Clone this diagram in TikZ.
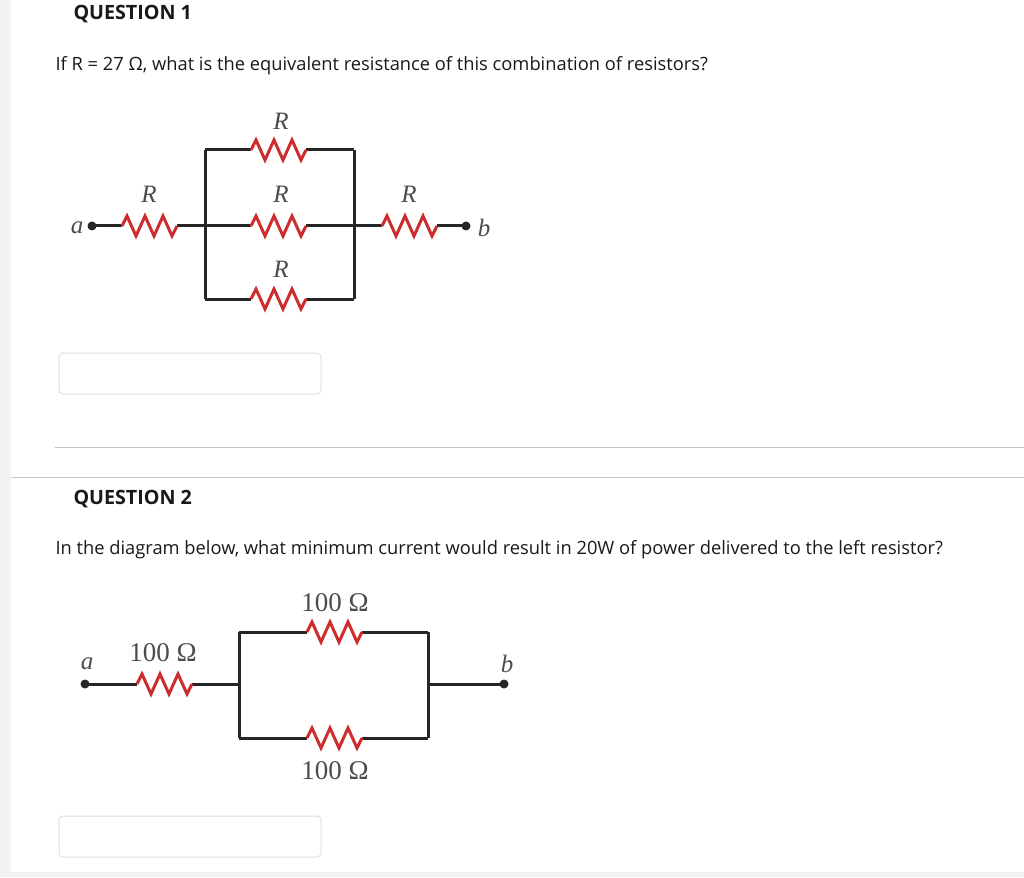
\documentclass[tikz,border=0pt]{standalone}
\usepackage{fontspec}
\setmainfont{Open Sans}
\newfontfamily\cserif{Liberation Serif}
\begin{document}
\begin{tikzpicture}[x=1pt,y=-1pt,
  wire/.style={line width=3pt,black!85},
  rz/.style={line width=3pt,draw={rgb,255:red,205;green,45;blue,45},line join=miter},
  dotn/.style={circle,fill=black!85,inner sep=0pt,minimum size=9pt},
  rlab/.style={font=\cserif\itshape\fontsize{25}{25}\selectfont,text=black!70},
  olab/.style={font=\cserif\fontsize{27}{27}\selectfont,text=black!70},
  title/.style={font=\bfseries\fontsize{19.7}{21}\selectfont,anchor=west,text=black!90},
  qtext/.style={font=\fontsize{18.3}{21}\selectfont,anchor=west,text=black!90},
  abox/.style={draw=black!12,line width=1pt,rounded corners=4pt,fill=white},
  sep/.style={draw=black!22,line width=1pt},
  res/.pic={\draw[rz] (0,0)--(5,-10)--(14,10)--(23,-10)--(32,10)--(41,-10)--(50,10)--(55,0);}]
\useasboundingbox (0,0) rectangle (1024,877);
\fill[white] (0,0) rectangle (1024,877);
\fill[black!5] (0,0) rectangle (11,877);
\fill[black!5] (11,872) rectangle (1024,877);
% Question 1
\node[title] (t1) at (70,14) {QUESTION 1};
\node[qtext] (q1) at (52,66) {If R = 27 Ω, what is the equivalent resistance of this combination of resistors?};
% circuit 1
\coordinate (A1) at (92,226);
\coordinate (L1) at (205,226);
\coordinate (LT) at (205,150);
\coordinate (LB) at (205,299);
\coordinate (R1) at (354,226);
\coordinate (RT) at (354,150);
\coordinate (RB) at (354,299);
\coordinate (B1) at (466,226);
\draw[wire] (A1)--(122,226) (177,226)--(L1)--(251,226) (306,226)--(R1)--(382,226) (437,226)--(B1);
\draw[wire] (LT)--(LB) (RT)--(RB);
\draw[wire] (LT)--(251,150) (306,150)--(RT);
\draw[wire] (LB)--(251,299) (306,299)--(RB);
\pic at (122,226) {res};
\pic at (251,150) {res};
\pic at (251,226) {res};
\pic at (251,299) {res};
\pic at (382,226) {res};
\node[dotn] (da) at (A1) {};
\node[dotn] (db) at (B1) {};
\node[rlab] (la) at (77,228) {a};
\node[rlab] (lb) at (484,228) {b};
\node[rlab] (r1) at (149,194) {R};
\node[rlab] (r2) at (281,121) {R};
\node[rlab] (r3) at (281,194) {R};
\node[rlab] (r4) at (281,269) {R};
\node[rlab] (r5) at (409,194) {R};
\draw[abox] (59,353) rectangle (321,394);
\draw[sep] (55,447)--(1024,447);
\draw[sep] (11,477)--(1024,477);
% Question 2
\node[title] (t2) at (70,499) {QUESTION 2};
\node[qtext] (q2) at (52,550) {In the diagram below, what minimum current would result in 20W of power delivered to the left resistor?};
\coordinate (A2) at (85,684);
\coordinate (L2) at (239,684);
\coordinate (L2T) at (239,632);
\coordinate (L2B) at (239,738);
\coordinate (R2) at (428,684);
\coordinate (R2T) at (428,632);
\coordinate (R2B) at (428,738);
\coordinate (B2) at (504,684);
\draw[wire] (A2)--(137,684) (192,684)--(L2) (R2)--(B2);
\draw[wire] (L2T)--(L2B) (R2T)--(R2B);
\draw[wire] (L2T)--(307,632) (362,632)--(R2T);
\draw[wire] (L2B)--(307,738) (362,738)--(R2B);
\pic at (137,684) {res};
\pic at (307,632) {res};
\pic at (307,738) {res};
\node[dotn] (da2) at (A2) {};
\node[dotn] (db2) at (B2) {};
\node[rlab] (la2) at (87,664) {a};
\node[rlab] (lb2) at (507,664) {b};
\node[olab] (o1) at (163,653) {100 Ω};
\node[olab] (o2) at (335,603) {100 Ω};
\node[olab] (o3) at (335,771) {100 Ω};
\draw[abox] (59,816) rectangle (321,857);
\end{tikzpicture}
\end{document}
